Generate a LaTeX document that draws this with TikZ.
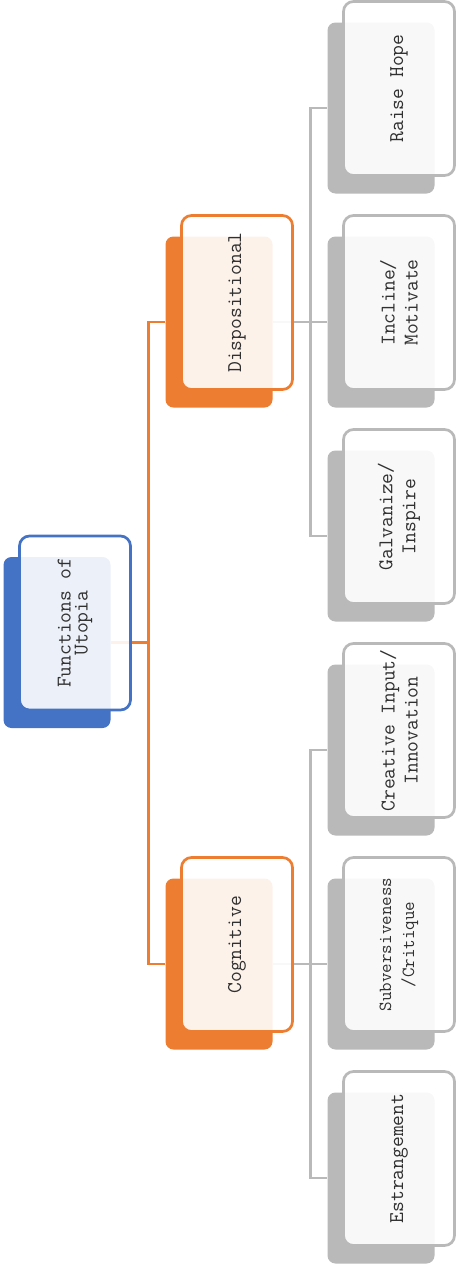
\documentclass[tikz,border=0pt]{standalone}
\usepackage{fontspec}
\usetikzlibrary{backgrounds}
\definecolor{cblue}{HTML}{4472C4}
\definecolor{corange}{HTML}{ED7D31}
\definecolor{cgray}{HTML}{B9B9B9}
\definecolor{ctext}{HTML}{303030}
\tikzset{
  backbox/.style={rectangle, rounded corners=8pt, inner sep=0pt, minimum width=107pt, minimum height=171pt, fill=#1},
  frontbox/.style={rectangle, rounded corners=10pt, inner sep=2pt, minimum width=174pt, minimum height=111pt,
    draw=#1, line width=2.7pt, fill=white, fill opacity=0.9, text opacity=1, rotate=90, align=center, text=ctext,
    font={\ttfamily\fontsize{21}{23}\selectfont}},
  conn/.style={draw=#1, line width=2.7pt},
}
\begin{document}
\begin{tikzpicture}[x=1pt,y=-1pt]
\useasboundingbox (0,0) rectangle (456,1266);
% root
\node[backbox=cblue] (rootb) at (57,642.5) {};
\node[frontbox=cblue, font={\ttfamily\fontsize{21}{17}\selectfont}] (root) at (75,623) {Functions of\\Utopia};
% middle
\node[backbox=corange] (disb) at (219,322) {};
\node[frontbox=corange] (dis) at (237,302.5) {Dispositional};
\node[backbox=corange] (cogb) at (219,964) {};
\node[frontbox=corange] (cog) at (237,944.5) {Cognitive};
% leaves
\node[backbox=cgray] (l1b) at (381,108) {};
\node[frontbox=cgray] (l1) at (399,88.5) {Raise Hope};
\node[backbox=cgray] (l2b) at (381,322) {};
\node[frontbox=cgray] (l2) at (399,302.5) {Incline/\\Motivate};
\node[backbox=cgray] (l3b) at (381,536) {};
\node[frontbox=cgray] (l3) at (399,516.5) {Galvanize/\\Inspire};
\node[backbox=cgray] (l4b) at (381,750) {};
\node[frontbox=cgray] (l4) at (399,730.5) {Creative Input/\\Innovation};
\node[backbox=cgray] (l5b) at (381,964) {};
\node[frontbox=cgray, font={\ttfamily\fontsize{18.5}{23}\selectfont}] (l5) at (399,944.5) {Subversiveness\\/Critique};
\node[backbox=cgray] (l6b) at (381,1178) {};
\node[frontbox=cgray] (l6) at (399,1158.5) {Estrangement};
% connectors
\begin{scope}[on background layer]
\draw[conn=corange] (rootb.east) -- ++(37.5,0) |- (disb.west);
\draw[conn=corange] (rootb.east) -- ++(37.5,0) |- (cogb.west);
\draw[conn=cgray] (disb.east) -- ++(37.5,0) |- (l1b.west);
\draw[conn=cgray] (disb.east) -- ++(37.5,0) |- (l2b.west);
\draw[conn=cgray] (disb.east) -- ++(37.5,0) |- (l3b.west);
\draw[conn=cgray] (cogb.east) -- ++(37.5,0) |- (l4b.west);
\draw[conn=cgray] (cogb.east) -- ++(37.5,0) |- (l5b.west);
\draw[conn=cgray] (cogb.east) -- ++(37.5,0) |- (l6b.west);
\end{scope}
\end{tikzpicture}
\end{document}
